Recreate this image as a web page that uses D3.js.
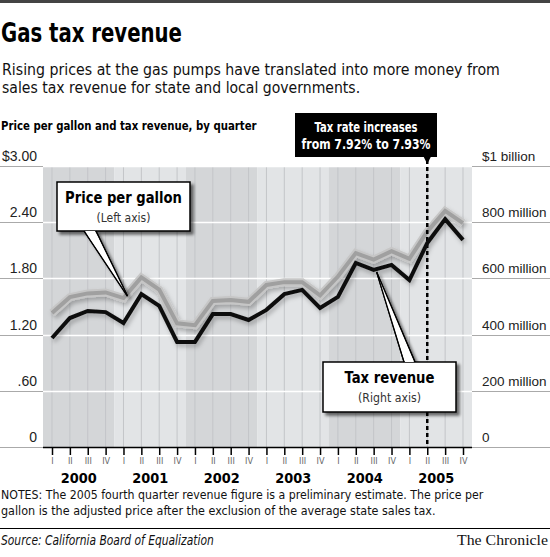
<!DOCTYPE html>
<html>
<head>
<meta charset="utf-8">
<script src="https://cdn.jsdelivr.net/npm/d3@7"></script>
<style>
  body { margin: 0; background: #fff; }
  svg { display: block; }
</style>
</head>
<body>
<div id="app"></div>
<script>
// data, by quarter 2000 I .. 2005 IV
const years = [2000, 2001, 2002, 2003, 2004, 2005];
const quarters = ['I', 'II', 'III', 'IV'];
const price = [1.43, 1.60, 1.64, 1.65, 1.59, 1.81, 1.68, 1.32,
               1.30, 1.56, 1.57, 1.55, 1.73, 1.76, 1.76, 1.62,
               1.82, 2.07, 2.00, 2.09, 2.01, 2.30, 2.52, 2.39];
const revenue = [388, 459, 484, 480, 441, 544, 502, 374,
                 374, 473, 473, 452, 488, 544, 559, 495,
                 534, 655, 630, 648, 594, 726, 811, 737];
const leftTicks = [0, 0.6, 1.2, 1.8, 2.4, 3.0];
const leftLabels = ['0', '.60', '1.20', '1.80', '2.40', '$3.00'];
const rightTicks = [0, 200, 400, 600, 800, 1000];
const rightLabels = ['0', '200 million', '400 million', '600 million', '800 million', '$1 billion'];

const W = 550, H = 557;
const plot = { left: 43, right: 472, top: 166, bottom: 447 };
const narrow = "'Liberation Sans Narrow', 'DejaVu Sans Condensed', 'Roboto Condensed', sans-serif";
const sans = "'Liberation Sans', Arial, sans-serif";

const svg = d3.select('#app').append('svg')
  .attr('width', W).attr('height', H)
  .style('font-family', sans);

// text squeezed horizontally to a measured width from the reference
function label(parent, str, x0, y0, width, attrs, anchor = 'start') {
  const g = parent.append('g').attr('transform', `translate(${x0},${y0})`);
  const t = g.append('text').attr('text-anchor', anchor).text(str);
  Object.entries(attrs).forEach(([k, v]) => t.attr(k, v));
  if (width) {
    const w = t.node().getComputedTextLength();
    if (w > 0) g.attr('transform', `translate(${x0},${y0}) scale(${width / w},1)`);
  }
  return t;
}

const defs = svg.append('defs');
defs.append('filter').attr('id', 'shadow').attr('x', '-20%').attr('y', '-20%').attr('width', '150%').attr('height', '150%')
  .append('feDropShadow').attr('dx', 3).attr('dy', 3).attr('stdDeviation', 1.5)
  .attr('flood-color', '#000').attr('flood-opacity', 0.55);
defs.append('filter').attr('id', 'lineShadow').attr('x', '-10%').attr('y', '-20%').attr('width', '130%').attr('height', '150%')
  .append('feDropShadow').attr('dx', 2).attr('dy', 3).attr('stdDeviation', 2)
  .attr('flood-color', '#000').attr('flood-opacity', 0.25);

// scales
const n = price.length;
const x = d3.scaleLinear().domain([0, n - 1]).range([52, 463]);
const step = x(1) - x(0);
const yL = d3.scaleLinear().domain([0, 3]).range([plot.bottom, plot.top]);
const yR = d3.scaleLinear().domain([0, 1000]).range([plot.bottom, plot.top]);

// top rule
svg.append('rect').attr('x', 0).attr('y', 0).attr('width', W).attr('height', 3).attr('fill', '#444');

// titles
label(svg, 'Gas tax revenue', 1, 42, 181,
  { 'font-family': narrow, 'font-weight': 700, 'font-size': 27 });
const sub = ['Rising prices at the gas pumps have translated into more money from',
             'sales tax revenue for state and local governments.'];
const subW = [498, 358];
sub.forEach((s, i) => {
  label(svg, s, 2, 75 + i * 18, subW[i], { 'font-family': narrow, 'font-size': 15.4, fill: '#111' });
});
label(svg, 'Price per gallon and tax revenue, by quarter', 1, 130, 256,
  { 'font-family': narrow, 'font-weight': 700, 'font-size': 13 });

// year bands
const bands = svg.append('g');
years.forEach((yr, i) => {
  const x0 = i === 0 ? plot.left : x(i * 4) - step / 2;
  const x1 = i === years.length - 1 ? plot.right : x(i * 4 + 3) + step / 2;
  bands.append('rect')
    .attr('x', x0).attr('y', plot.top).attr('width', x1 - x0).attr('height', plot.bottom - plot.top)
    .attr('fill', i % 2 === 0 ? '#d4d6d8' : '#e2e4e6');
});
// quarter lines
svg.append('g').selectAll('line').data(d3.range(n)).join('line')
  .attr('x1', d => x(d)).attr('x2', d => x(d))
  .attr('y1', plot.top).attr('y2', plot.bottom)
  .attr('stroke', '#c3c5c8').attr('stroke-width', 1);

// horizontal grid: white inside the plot, gray in the margins
const grid = svg.append('g');
leftTicks.forEach(t => {
  const yy = Math.round(yL(t)) + 0.5;
  if (t > 0) {
    grid.append('line').attr('x1', plot.left).attr('x2', plot.right).attr('y1', yy).attr('y2', yy)
      .attr('stroke', '#fff').attr('stroke-width', 1.5);
  }
  grid.append('line').attr('x1', 0).attr('x2', plot.left).attr('y1', yy).attr('y2', yy)
    .attr('stroke', '#aaa').attr('stroke-width', 1);
  grid.append('line').attr('x1', plot.right).attr('x2', W).attr('y1', yy).attr('y2', yy)
    .attr('stroke', '#aaa').attr('stroke-width', 1);
});

// axis labels
svg.append('g').selectAll('text').data(leftTicks).join('text')
  .attr('x', 37).attr('y', d => yL(d) - 5)
  .attr('text-anchor', 'end').attr('font-size', 14).attr('fill', '#222')
  .text((d, i) => leftLabels[i]);
svg.append('g').selectAll('text').data(rightTicks).join('text')
  .attr('x', 482).attr('y', d => yR(d) - 5)
  .attr('font-size', 13.5).attr('fill', '#222')
  .text((d, i) => rightLabels[i]);

// x axis
const xAxis = d3.axisBottom(x).tickValues(d3.range(n)).tickSize(8).tickPadding(3)
  .tickFormat(d => quarters[d % 4]);
const gx = svg.append('g').attr('transform', `translate(0,${plot.bottom})`).call(xAxis);
gx.select('.domain').attr('d', `M${plot.left},0.5H${plot.right}`).attr('stroke', '#000').attr('stroke-width', 1.5);
gx.selectAll('.tick line').attr('stroke', '#000').attr('stroke-width', 1.5);
gx.selectAll('.tick text').attr('font-family', narrow).attr('font-size', 9).attr('fill', '#666').attr('dy', '0.72em');
const gy = svg.append('g');
years.forEach((yr, i) => {
  label(gy, String(yr), (x(i * 4) + x(i * 4 + 3)) / 2, 483, 36,
    { 'font-family': narrow, 'font-weight': 700, 'font-size': 14.5 }, 'middle');
});

// lines
const priceLine = d3.line().x((d, i) => x(i)).y(d => yL(d));
const revLine = d3.line().x((d, i) => x(i)).y(d => yR(d));
svg.append('path').datum(price).attr('d', priceLine)
  .attr('fill', 'none').attr('stroke', '#c6c6c6').attr('stroke-width', 8)
  .attr('stroke-linejoin', 'miter').attr('filter', 'url(#lineShadow)');
svg.append('path').datum(price).attr('d', priceLine)
  .attr('fill', 'none').attr('stroke', '#a0a0a0').attr('stroke-width', 4).attr('stroke-linejoin', 'miter');

// tax rate marker
const iRate = 21;
svg.append('line').attr('x1', x(iRate)).attr('x2', x(iRate)).attr('y1', 160).attr('y2', plot.bottom)
  .attr('stroke', '#000').attr('stroke-width', 2.5).attr('stroke-dasharray', '4,3');

svg.append('path').datum(revenue).attr('d', revLine)
  .attr('fill', 'none').attr('stroke', '#111').attr('stroke-width', 4)
  .attr('stroke-linejoin', 'miter').attr('filter', 'url(#lineShadow)');

// callout boxes
function callout(bx, by, bw, bh, base0, base1, tip, title, titleW, note, noteW) {
  const g = svg.append('g');
  g.append('path')
    .attr('d', `M${base0[0]},${base0[1]}L${tip[0]},${tip[1]}L${base1[0]},${base1[1]}Z`)
    .attr('fill', '#fff').attr('stroke', '#000').attr('stroke-width', 1.2).attr('filter', 'url(#shadow)');
  g.append('rect').attr('x', bx).attr('y', by).attr('width', bw).attr('height', bh)
    .attr('fill', '#fff').attr('stroke', '#000').attr('stroke-width', 1.5).attr('filter', 'url(#shadow)');
  // cover the seam where pointer meets box
  g.append('path')
    .attr('d', `M${base0[0] + 1},${base0[1]}L${tip[0]},${tip[1]}L${base1[0] - 1},${base1[1]}Z`)
    .attr('fill', '#fff');
  g.append('line').attr('x1', base0[0]).attr('y1', base0[1]).attr('x2', tip[0]).attr('y2', tip[1]).attr('stroke', '#000').attr('stroke-width', 1.2);
  g.append('line').attr('x1', base1[0]).attr('y1', base1[1]).attr('x2', tip[0]).attr('y2', tip[1]).attr('stroke', '#000').attr('stroke-width', 1.2);
  label(g, title, bx + bw / 2, by + 21, titleW,
    { 'font-family': narrow, 'font-weight': 700, 'font-size': 16 }, 'middle');
  label(g, note, bx + bw / 2, by + 40, noteW,
    { 'font-family': narrow, 'font-size': 13, fill: '#333' }, 'middle');
}
callout(57, 182, 133, 49, [84, 231], [96, 231], [x(4) + 4, yL(price[4]) - 2],
  'Price per gallon', 117, '(Left axis)', 54);
callout(323, 362, 133, 50, [404, 362], [415, 362], [x(18) + 3, yR(revenue[18]) + 2],
  'Tax revenue', 90, '(Right axis)', 63);

// tax rate box
const rb = svg.append('g');
rb.append('rect').attr('x', 295).attr('y', 113).attr('width', 142).attr('height', 44).attr('fill', '#000');
rb.append('path').attr('d', `M${x(iRate) - 4},156L${x(iRate)},164L${x(iRate) + 4},156Z`).attr('fill', '#000');
const rateText = ['Tax rate increases', 'from 7.92% to 7.93%'];
const rateW = [103, 129];
rateText.forEach((s, i) => {
  label(rb, s, 366, 132 + i * 17, rateW[i],
    { 'font-family': narrow, 'font-weight': 700, 'font-size': 14, fill: '#fff' }, 'middle');
});

// notes and source
const notes = ['NOTES:  The 2005 fourth quarter revenue figure is a preliminary estimate. The price per',
               'gallon is the adjusted price after the exclusion of the average state sales tax.'];
const notesW = [483, 435];
notes.forEach((s, i) => {
  label(svg, s, 1, 499 + i * 15.5, notesW[i], { 'font-family': narrow, 'font-size': 13, fill: '#111' });
});
svg.append('line').attr('x1', 0).attr('x2', W).attr('y1', 528.5).attr('y2', 528.5).attr('stroke', '#000').attr('stroke-width', 1);
label(svg, 'Source: California Board of Equalization', 1, 545, 213,
  { 'font-family': narrow, 'font-style': 'italic', 'font-size': 14, fill: '#111' });
label(svg, 'The Chronicle', 548, 545, 91,
  { 'font-family': "'Liberation Serif', 'DejaVu Serif', serif", 'font-size': 14, fill: '#111' }, 'end');
</script>
</body>
</html>
